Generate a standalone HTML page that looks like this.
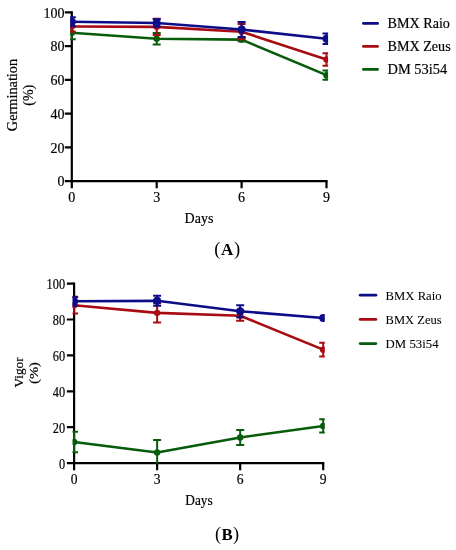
<!DOCTYPE html><html><head><meta charset="utf-8"><style>html,body{margin:0;padding:0;background:#fff;}body{width:456px;height:550px;overflow:hidden;}svg{display:block;} text{stroke:#000;stroke-width:0.18px;} text.lab{stroke-width:0;} text.lt{stroke-width:0.05px;}</style></head><body>
<svg width="456" height="550" viewBox="0 0 456 550" font-family="'Liberation Serif', 'Times New Roman', serif" fill="#000" stroke-width="0">
<rect width="456" height="550" fill="#fff"/>
<path d="M71.80,11.20V182.30M70.70,181.20H327.60" stroke="#000" stroke-width="2.2" fill="none"/>
<path d="M64.80,181.20H71.80M64.80,147.42H71.80M64.80,113.64H71.80M64.80,79.86H71.80M64.80,46.08H71.80M64.80,12.30H71.80M71.80,181.20V188.20M156.70,181.20V188.20M241.60,181.20V188.20M326.50,181.20V188.20" stroke="#000" stroke-width="2.2" fill="none"/>
<clipPath id="ca"><rect x="70.20" y="0" width="257.90" height="181.80"/></clipPath>
<g clip-path="url(#ca)">
<polyline points="71.80,32.74 156.70,38.82 241.60,39.66 326.50,75.13" fill="none" stroke="#075c0b" stroke-width="2.6" stroke-linejoin="round"/>
<path d="M71.80,26.15V39.32M67.80,26.15H75.80M67.80,39.32H75.80" stroke="#075c0b" stroke-width="2.0" fill="none"/>
<path d="M156.70,33.07V44.56M152.70,33.07H160.70M152.70,44.56H160.70" stroke="#075c0b" stroke-width="2.0" fill="none"/>
<path d="M241.60,37.97V41.35M237.60,37.97H245.60M237.60,41.35H245.60" stroke="#075c0b" stroke-width="2.0" fill="none"/>
<path d="M326.50,70.40V79.86M322.50,70.40H330.50M322.50,79.86H330.50" stroke="#075c0b" stroke-width="2.0" fill="none"/>
<circle cx="71.80" cy="32.74" r="3.2" fill="#075c0b"/>
<circle cx="156.70" cy="38.82" r="3.2" fill="#075c0b"/>
<circle cx="241.60" cy="39.66" r="3.2" fill="#075c0b"/>
<circle cx="326.50" cy="75.13" r="3.2" fill="#075c0b"/>
<polyline points="71.80,26.49 156.70,26.83 241.60,31.72 326.50,59.42" fill="none" stroke="#a80c12" stroke-width="2.6" stroke-linejoin="round"/>
<path d="M71.80,21.25V31.72M67.80,21.25H75.80M67.80,31.72H75.80" stroke="#a80c12" stroke-width="2.0" fill="none"/>
<path d="M156.70,18.72V34.93M152.70,18.72H160.70M152.70,34.93H160.70" stroke="#a80c12" stroke-width="2.0" fill="none"/>
<path d="M241.60,24.12V39.32M237.60,24.12H245.60M237.60,39.32H245.60" stroke="#a80c12" stroke-width="2.0" fill="none"/>
<path d="M326.50,53.17V65.67M322.50,53.17H330.50M322.50,65.67H330.50" stroke="#a80c12" stroke-width="2.0" fill="none"/>
<circle cx="71.80" cy="26.49" r="3.2" fill="#a80c12"/>
<circle cx="156.70" cy="26.83" r="3.2" fill="#a80c12"/>
<circle cx="241.60" cy="31.72" r="3.2" fill="#a80c12"/>
<circle cx="326.50" cy="59.42" r="3.2" fill="#a80c12"/>
<polyline points="71.80,21.76 156.70,22.94 241.60,29.53 326.50,38.82" fill="none" stroke="#0d0d8a" stroke-width="2.6" stroke-linejoin="round"/>
<path d="M71.80,17.20V26.32M67.80,17.20H75.80M67.80,26.32H75.80" stroke="#0d0d8a" stroke-width="2.0" fill="none"/>
<path d="M156.70,19.22V26.66M152.70,19.22H160.70M152.70,26.66H160.70" stroke="#0d0d8a" stroke-width="2.0" fill="none"/>
<path d="M241.60,22.10V36.96M237.60,22.10H245.60M237.60,36.96H245.60" stroke="#0d0d8a" stroke-width="2.0" fill="none"/>
<path d="M326.50,33.58V44.05M322.50,33.58H330.50M322.50,44.05H330.50" stroke="#0d0d8a" stroke-width="2.0" fill="none"/>
<circle cx="71.80" cy="21.76" r="4.0" fill="#0d0d8a"/>
<circle cx="156.70" cy="22.94" r="4.0" fill="#0d0d8a"/>
<circle cx="241.60" cy="29.53" r="4.0" fill="#0d0d8a"/>
<circle cx="326.50" cy="38.82" r="4.0" fill="#0d0d8a"/>
</g>
<text x="64.40" y="186.40" text-anchor="end" font-size="14">0</text>
<text x="64.40" y="152.62" text-anchor="end" font-size="14">20</text>
<text x="64.40" y="118.84" text-anchor="end" font-size="14">40</text>
<text x="64.40" y="85.06" text-anchor="end" font-size="14">60</text>
<text x="64.40" y="51.28" text-anchor="end" font-size="14">80</text>
<text x="64.40" y="17.50" text-anchor="end" font-size="14">100</text>
<text x="71.80" y="202.00" text-anchor="middle" font-size="14">0</text>
<text x="156.70" y="202.00" text-anchor="middle" font-size="14">3</text>
<text x="241.60" y="202.00" text-anchor="middle" font-size="14">6</text>
<text x="326.50" y="202.00" text-anchor="middle" font-size="14">9</text>
<text x="199.00" y="222.50" text-anchor="middle" font-size="14">Days</text>
<text transform="translate(16.60,95.00) rotate(-90)" text-anchor="middle" font-size="14.3">Germination</text>
<text transform="translate(33.20,95.20) rotate(-90)" text-anchor="middle" font-size="14">(%)</text>
<path d="M363.40,23.40H377.60" stroke="#0d0d8a" stroke-width="2.8" stroke-linecap="round"/>
<text class="" x="387.50" y="28.30" font-size="14" textLength="62.4" lengthAdjust="spacingAndGlyphs">BMX Raio</text>
<path d="M363.40,46.40H377.60" stroke="#a80c12" stroke-width="2.8" stroke-linecap="round"/>
<text class="" x="387.50" y="51.30" font-size="14" textLength="63.2" lengthAdjust="spacingAndGlyphs">BMX Zeus</text>
<path d="M363.40,69.40H377.60" stroke="#075c0b" stroke-width="2.8" stroke-linecap="round"/>
<text class="" x="387.50" y="74.30" font-size="14" textLength="59.6" lengthAdjust="spacingAndGlyphs">DM 53i54</text>
<text class="lab" x="227.20" y="254.70" text-anchor="middle" font-size="18.6">(<tspan dx="0.7" font-weight="bold" font-size="17">A</tspan><tspan dx="0.7">)</tspan></text>
<path d="M74.10,282.40V464.20M73.00,463.10H324.30" stroke="#000" stroke-width="2.2" fill="none"/>
<path d="M66.90,463.10H74.10M66.90,427.20H74.10M66.90,391.30H74.10M66.90,355.40H74.10M66.90,319.50H74.10M66.90,283.60H74.10M74.10,463.10V470.30M157.13,463.10V470.30M240.17,463.10V470.30M323.20,463.10V470.30" stroke="#000" stroke-width="2.2" fill="none"/>
<clipPath id="cb"><rect x="72.50" y="0" width="252.30" height="463.70"/></clipPath>
<g clip-path="url(#cb)">
<polyline points="74.10,441.92 157.13,452.51 240.17,437.43 323.20,425.94" fill="none" stroke="#075c0b" stroke-width="2.6" stroke-linejoin="round"/>
<path d="M74.10,431.69V452.15M70.10,431.69H78.10M70.10,452.15H78.10" stroke="#075c0b" stroke-width="2.0" fill="none"/>
<path d="M157.13,439.94V465.07M153.13,439.94H161.13M153.13,465.07H161.13" stroke="#075c0b" stroke-width="2.0" fill="none"/>
<path d="M240.17,429.89V444.97M236.17,429.89H244.17M236.17,444.97H244.17" stroke="#075c0b" stroke-width="2.0" fill="none"/>
<path d="M323.20,419.30V432.59M319.20,419.30H327.20M319.20,432.59H327.20" stroke="#075c0b" stroke-width="2.0" fill="none"/>
<circle cx="74.10" cy="441.92" r="3.2" fill="#075c0b"/>
<circle cx="157.13" cy="452.51" r="3.2" fill="#075c0b"/>
<circle cx="240.17" cy="437.43" r="3.2" fill="#075c0b"/>
<circle cx="323.20" cy="425.94" r="3.2" fill="#075c0b"/>
<polyline points="74.10,305.32 157.13,312.86 240.17,315.73 323.20,349.66" fill="none" stroke="#a80c12" stroke-width="2.6" stroke-linejoin="round"/>
<path d="M74.10,297.06V313.58M70.10,297.06H78.10M70.10,313.58H78.10" stroke="#a80c12" stroke-width="2.0" fill="none"/>
<path d="M157.13,303.17V322.55M153.13,303.17H161.13M153.13,322.55H161.13" stroke="#a80c12" stroke-width="2.0" fill="none"/>
<path d="M240.17,310.70V320.76M236.17,310.70H244.17M236.17,320.76H244.17" stroke="#a80c12" stroke-width="2.0" fill="none"/>
<path d="M323.20,342.84V356.48M319.20,342.84H327.20M319.20,356.48H327.20" stroke="#a80c12" stroke-width="2.0" fill="none"/>
<circle cx="74.10" cy="305.32" r="3.2" fill="#a80c12"/>
<circle cx="157.13" cy="312.86" r="3.2" fill="#a80c12"/>
<circle cx="240.17" cy="315.73" r="3.2" fill="#a80c12"/>
<circle cx="323.20" cy="349.66" r="3.2" fill="#a80c12"/>
<polyline points="74.10,301.19 157.13,300.83 240.17,311.24 323.20,318.06" fill="none" stroke="#0d0d8a" stroke-width="2.6" stroke-linejoin="round"/>
<path d="M74.10,296.70V305.68M70.10,296.70H78.10M70.10,305.68H78.10" stroke="#0d0d8a" stroke-width="2.0" fill="none"/>
<path d="M157.13,295.81V305.86M153.13,295.81H161.13M153.13,305.86H161.13" stroke="#0d0d8a" stroke-width="2.0" fill="none"/>
<path d="M240.17,305.32V317.17M236.17,305.32H244.17M236.17,317.17H244.17" stroke="#0d0d8a" stroke-width="2.0" fill="none"/>
<circle cx="74.10" cy="301.19" r="4.0" fill="#0d0d8a"/>
<circle cx="157.13" cy="300.83" r="4.0" fill="#0d0d8a"/>
<circle cx="240.17" cy="311.24" r="4.0" fill="#0d0d8a"/>
<circle cx="323.20" cy="318.06" r="4.0" fill="#0d0d8a"/>
</g>
<text x="65.10" y="468.70" text-anchor="end" font-size="14" textLength="6.16" lengthAdjust="spacingAndGlyphs">0</text>
<text x="65.10" y="432.80" text-anchor="end" font-size="14" textLength="12.32" lengthAdjust="spacingAndGlyphs">20</text>
<text x="65.10" y="396.90" text-anchor="end" font-size="14" textLength="12.32" lengthAdjust="spacingAndGlyphs">40</text>
<text x="65.10" y="361.00" text-anchor="end" font-size="14" textLength="12.32" lengthAdjust="spacingAndGlyphs">60</text>
<text x="65.10" y="325.10" text-anchor="end" font-size="14" textLength="12.32" lengthAdjust="spacingAndGlyphs">80</text>
<text x="65.10" y="289.20" text-anchor="end" font-size="14" textLength="18.48" lengthAdjust="spacingAndGlyphs">100</text>
<text x="74.10" y="484.10" text-anchor="middle" font-size="13.6">0</text>
<text x="157.13" y="484.10" text-anchor="middle" font-size="13.6">3</text>
<text x="240.17" y="484.10" text-anchor="middle" font-size="13.6">6</text>
<text x="323.20" y="484.10" text-anchor="middle" font-size="13.6">9</text>
<text x="199.00" y="505.00" text-anchor="middle" font-size="14.2" textLength="27.4" lengthAdjust="spacingAndGlyphs">Days</text>
<text transform="translate(22.60,372.40) rotate(-90)" text-anchor="middle" font-size="13.2">Vigor</text>
<text transform="translate(38.40,373.00) rotate(-90)" text-anchor="middle" font-size="12.4" textLength="22.0" lengthAdjust="spacingAndGlyphs">(%)</text>
<path d="M360.20,295.20H375.90" stroke="#0d0d8a" stroke-width="2.8" stroke-linecap="round"/>
<text class="lt" x="385.60" y="300.00" font-size="13.4" textLength="56.0" lengthAdjust="spacingAndGlyphs">BMX Raio</text>
<path d="M360.20,319.40H375.90" stroke="#a80c12" stroke-width="2.8" stroke-linecap="round"/>
<text class="lt" x="385.60" y="324.20" font-size="13.4" textLength="56.0" lengthAdjust="spacingAndGlyphs">BMX Zeus</text>
<path d="M360.20,343.60H375.90" stroke="#075c0b" stroke-width="2.8" stroke-linecap="round"/>
<text class="lt" x="385.60" y="348.40" font-size="13.4" textLength="53.0" lengthAdjust="spacingAndGlyphs">DM 53i54</text>
<text class="lab" x="227.00" y="539.60" text-anchor="middle" font-size="18.2">(<tspan dx="0.3" font-weight="bold" font-size="16.8">B</tspan><tspan dx="0.3">)</tspan></text>
</svg></body></html>
